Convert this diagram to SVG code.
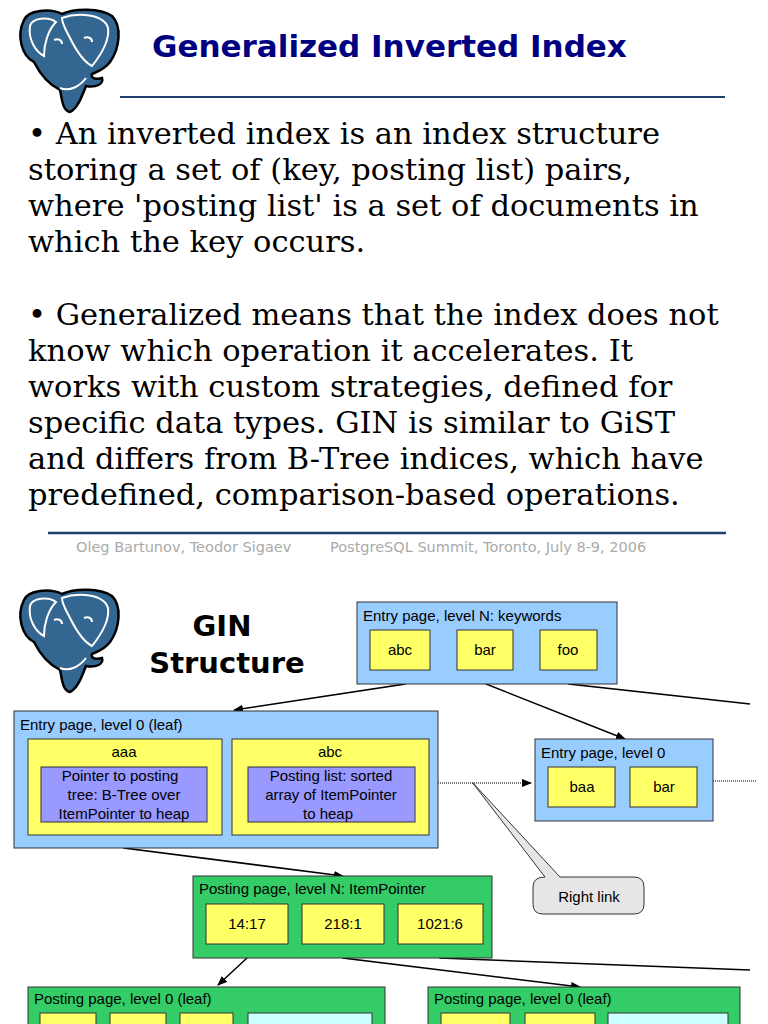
<svg xmlns="http://www.w3.org/2000/svg" width="768" height="1024" viewBox="0 0 768 1024">
<style>
.b{font-family:"DejaVu Serif",serif;font-size:30.5px;fill:#000}
.s{font-family:"Liberation Sans",Arial,sans-serif;font-size:15px;fill:#000}
.c{text-anchor:middle}
.blue{fill:#99ccff;stroke:#333;stroke-width:1}
.green{fill:#33cc66;stroke:#333;stroke-width:1}
.yel{fill:#ffff66;stroke:#333;stroke-width:1}
.pur{fill:#9999ff;stroke:#333;stroke-width:1}
.cy{fill:#ccffff;stroke:#333;stroke-width:1}
.ln{stroke:#000;stroke-width:1.5;fill:none}
.ele{fill:#336791;stroke:#000;stroke-width:2.5}
.eli{fill:none;stroke:#fff;stroke-width:2}
</style>
<defs>
<marker id="a" markerWidth="10" markerHeight="8" refX="9" refY="4" orient="auto" markerUnits="userSpaceOnUse"><path d="M0,0L10,4L0,8z"/></marker>
<g id="logo">
<path class="ele" d="M24,20 C28,10 50,8 62,14 C75,8 100,8 112,16 C122,26 120,48 110,62 C104,70 96,72 92,74 C90,78 96,80 102,78 C104,84 96,88 86,86 C82,96 78,108 70,112 C62,110 62,98 60,90 C48,84 40,74 34,62 C22,56 16,36 24,20z"/>
<path class="eli" d="M30,26 C32,18 48,16 56,22 C48,30 44,44 44,56 C36,52 28,40 30,26z M62,18 C78,12 104,14 108,28 C110,42 100,56 92,66 C84,62 76,50 70,38 C66,30 62,24 62,18z M54,40 C58,38 62,40 62,44 M84,38 C88,36 92,38 92,42 M60,88 C70,92 80,86 86,78"/>
</g>
</defs>
<rect width="768" height="1024" fill="#fff"/>
<use href="#logo" transform="translate(0,0)"/>
<text x="152" y="57" style="font-family:'DejaVu Sans',sans-serif;font-size:31px;font-weight:bold;fill:#000080">Generalized Inverted Index</text>
<line x1="120" y1="97" x2="725" y2="97" stroke="#1f3f6f" stroke-width="2"/>
<text class="b" x="28" y="144">• An inverted index is an index structure</text>
<text class="b" x="28" y="180">storing a set of (key, posting list) pairs,</text>
<text class="b" x="28" y="216">where 'posting list' is a set of documents in</text>
<text class="b" x="28" y="252">which the key occurs.</text>
<text class="b" x="28" y="325">• Generalized means that the index does not</text>
<text class="b" x="28" y="361">know which operation it accelerates. It</text>
<text class="b" x="28" y="397">works with custom strategies, defined for</text>
<text class="b" x="28" y="433">specific data types. GIN is similar to GiST</text>
<text class="b" x="28" y="469">and differs from B-Tree indices, which have</text>
<text class="b" x="28" y="505">predefined, comparison-based operations.</text>
<line x1="48" y1="533" x2="726" y2="533" stroke="#1f3f6f" stroke-width="2.5"/>
<text x="76" y="552" style="font-family:'DejaVu Sans',sans-serif;font-size:14.5px;fill:#aaa">Oleg Bartunov, Teodor Sigaev</text>
<text x="330" y="552" style="font-family:'DejaVu Sans',sans-serif;font-size:14.5px;fill:#aaa">PostgreSQL Summit, Toronto, July 8-9, 2006</text>

<use href="#logo" transform="translate(0,580)"/>
<text x="222" y="636" class="c" style="font-family:'DejaVu Sans',sans-serif;font-size:29px;font-weight:bold">GIN</text>
<text x="227" y="673" class="c" style="font-family:'DejaVu Sans',sans-serif;font-size:29px;font-weight:bold">Structure</text>

<g id="connectors">
<path class="ln" d="M405,670V684L234,710" marker-end="url(#a)"/>
<path class="ln" d="M486,670V684L625,739" marker-end="url(#a)"/>
<path class="ln" d="M569,670V684L750,704"/>
<path d="M438,783H531" stroke="#000" stroke-width="1" stroke-dasharray="1,1" marker-end="url(#a)"/>
<path d="M713,781H756" stroke="#000" stroke-width="1" stroke-dasharray="1,1"/>
<path class="ln" d="M124,822V848L343,876" marker-end="url(#a)"/>
<path class="ln" d="M247,944V958L218,985" marker-end="url(#a)"/>
<path class="ln" d="M343,944V958L580,987" marker-end="url(#a)"/>
<path class="ln" d="M440,944V958L750,970"/>
</g>

<g id="n-top"><rect class="blue" x="357" y="602" width="260" height="82"/>
<text class="s" x="363" y="621">Entry page, level N: keywords</text>
<rect class="yel" x="370" y="630" width="60" height="40"/><text class="s c" x="400" y="655">abc</text>
<rect class="yel" x="457" y="630" width="56" height="40"/><text class="s c" x="485" y="655">bar</text>
<rect class="yel" x="540" y="630" width="57" height="40"/><text class="s c" x="568" y="655">foo</text></g>

<g id="n-leaf"><rect class="blue" x="14" y="711" width="424" height="137"/>
<text class="s" x="20" y="730">Entry page, level 0 (leaf)</text>
<rect class="yel" x="28" y="739" width="194" height="96"/><text class="s c" x="124" y="757">aaa</text>
<rect class="pur" x="41" y="767" width="166" height="55"/>
<text class="s c" x="120" y="781">Pointer to posting</text><text class="s c" x="124" y="800">tree: B-Tree over</text><text class="s c" x="124" y="819">ItemPointer to heap</text>
<rect class="yel" x="232" y="739" width="197" height="96"/><text class="s c" x="330" y="757">abc</text>
<rect class="pur" x="248" y="767" width="167" height="55"/>
<text class="s c" x="331" y="781">Posting list: sorted</text><text class="s c" x="331" y="800">array of ItemPointer</text><text class="s c" x="328" y="819">to heap</text></g>

<g id="n-e0"><rect class="blue" x="535" y="739" width="178" height="82"/>
<text class="s" x="541" y="758">Entry page, level 0</text>
<rect class="yel" x="548" y="767" width="67" height="40"/><text class="s c" x="582" y="792">baa</text>
<rect class="yel" x="630" y="767" width="67" height="40"/><text class="s c" x="664" y="792">bar</text></g>

<g id="n-pn"><rect class="green" x="193" y="876" width="299" height="82"/>
<text class="s" x="199" y="894">Posting page, level N: ItemPointer</text>
<rect class="yel" x="206" y="904" width="82" height="40"/><text class="s c" x="247" y="929">14:17</text>
<rect class="yel" x="302" y="904" width="82" height="40"/><text class="s c" x="343" y="929">218:1</text>
<rect class="yel" x="398" y="904" width="85" height="40"/><text class="s c" x="440" y="929">1021:6</text></g>

<g id="n-p1"><rect class="green" x="28" y="987" width="357" height="50"/>
<text class="s" x="34" y="1004">Posting page, level 0 (leaf)</text>
<rect class="yel" x="40" y="1013" width="56" height="30"/><rect class="yel" x="110" y="1013" width="56" height="30"/><rect class="yel" x="180" y="1013" width="53" height="30"/><rect class="cy" x="248" y="1013" width="124" height="30"/></g>

<g id="n-p2"><rect class="green" x="428" y="987" width="312" height="50"/>
<text class="s" x="434" y="1004">Posting page, level 0 (leaf)</text>
<rect class="yel" x="441" y="1013" width="69" height="30"/><rect class="yel" x="525" y="1013" width="70" height="30"/><rect class="cy" x="608" y="1013" width="120" height="30"/></g>

<g id="n-right"><path d="M545,877 L472,782 L560,877 H634 Q644,877 644,887 V904 Q644,914 634,914 H543 Q533,914 533,904 V887 Q533,877 545,877z" fill="#e6e6e6" stroke="#333" stroke-width="1"/>
<text class="s c" x="589" y="902">Right link</text></g>
</svg>
